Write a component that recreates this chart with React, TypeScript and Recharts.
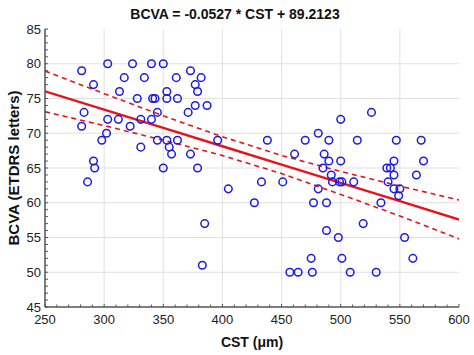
import React from "react";
import {
  ComposedChart,
  Scatter,
  XAxis,
  YAxis,
  ReferenceLine,
} from "recharts";

// CST (µm) and BCVA (ETDRS letters)
const cstValues = [
  281, 303, 324, 340, 350, 291, 317, 334, 361, 373, 382, 377, 379, 313, 353,
  328, 341, 343, 353, 362, 377, 387, 283, 345, 371, 500, 526, 281, 303, 312,
  331, 340, 322, 302, 298, 345, 353, 362, 355, 331, 357, 373, 291, 292, 286,
  350, 379, 396, 405, 427, 433, 438, 451, 461, 470, 481, 490, 486, 490, 485,
  492, 493, 499, 501, 511, 500, 514, 481, 477, 488, 534, 519, 547, 539, 542,
  545, 545, 540, 545, 550, 549, 564, 568, 570, 385, 383, 457, 464, 476, 475,
  488, 498, 501, 508, 530, 554, 561,
];
const bcvaValues = [
  79, 80, 80, 80, 80, 77, 78, 78, 78, 79, 78, 77, 76, 76, 76,
  75, 75, 75, 75, 75, 74, 74, 73, 73, 73, 72, 73, 71, 72, 72,
  72, 72, 71, 70, 69, 69, 69, 69, 68, 68, 67, 67, 66, 65, 63,
  65, 65, 69, 62, 60, 63, 69, 63, 67, 69, 70, 69, 67, 66, 65,
  64, 63, 63, 63, 63, 66, 69, 62, 60, 60, 60, 57, 69, 65, 65,
  66, 64, 63, 62, 62, 61, 64, 69, 66, 57, 51, 50, 50, 50, 52,
  56, 55, 52, 50, 50, 55, 52,
];

// regression line and its confidence band
const fitCst = [250, 300, 350, 400, 450, 500, 550, 600];
const fitBcva = [76.04, 73.4, 70.76, 68.13, 65.5, 62.86, 60.23, 57.59];
const upperBcva = [78.95, 75.7, 72.5, 69.5, 66.8, 64.5, 62.4, 60.4];
const lowerBcva = [73.1, 71.1, 69.0, 66.8, 64.2, 61.2, 58.1, 54.8];

const xMajor = [250, 300, 350, 400, 450, 500, 550, 600];
const yMajor = [45, 50, 55, 60, 65, 70, 75, 80, 85];
const xMinor = Array.from({ length: 36 }, (_, i) => 250 + i * 10);
const yMinor = Array.from({ length: 41 }, (_, i) => 45 + i);

const points = cstValues.map((cst, i) => ({ cst, bcva: bcvaValues[i] }));
const toLine = (ys: number[]) => fitCst.map((cst, i) => ({ cst, bcva: ys[i] }));

const FONT = "'Liberation Sans', Arial, sans-serif";
const FRAME = "#555";
const RED = "#e3141c";
const BLUE = "#1c1ce0";

const BottomTick = (p: any) => {
  const v = p.payload.value;
  const major = v % 50 === 0;
  return (
    <g>
      <line x1={p.x} x2={p.x} y1={p.y} y2={p.y - (major ? 3 : 2.5)} stroke={FRAME} />
      {major && (
        <text x={p.x} y={p.y + 17} textAnchor="middle" fontSize={13} fill="#222" fontFamily={FONT}>
          {v}
        </text>
      )}
    </g>
  );
};

const LeftTick = (p: any) => {
  const v = p.payload.value;
  const major = v % 5 === 0;
  return (
    <g>
      <line x1={p.x} x2={p.x + 3} y1={p.y} y2={p.y} stroke={FRAME} />
      {major && (
        <text x={p.x - 4} y={p.y + 4.5} textAnchor="end" fontSize={13} fill="#222" fontFamily={FONT}>
          {v}
        </text>
      )}
    </g>
  );
};

const TopTick = (p: any) => (
  <line x1={p.x} x2={p.x} y1={p.y} y2={p.y + 3} stroke={FRAME} />
);

const RightTick = (p: any) => (
  <line x1={p.x} x2={p.x - 3} y1={p.y} y2={p.y} stroke={FRAME} />
);

const Ring = (p: any) => (
  <circle cx={p.cx} cy={p.cy} r={3.8} fill="none" stroke={BLUE} strokeWidth={1.5} />
);

const NoDot = () => <g />;

export default function App() {
  return (
    <div style={{ position: "absolute", left: 0, top: 0, width: 474, height: 355, background: "#fff" }}>
      <ComposedChart
        width={474}
        height={355}
        margin={{ top: 29, right: 15, bottom: 18, left: 0 }}
      >
        <XAxis
          xAxisId="x"
          dataKey="cst"
          type="number"
          domain={[250, 600]}
          ticks={xMinor}
          interval={0}
          tickSize={0}
          tickMargin={0}
          height={30}
          tick={<BottomTick />}
          axisLine={{ stroke: FRAME, strokeWidth: 1.5 }}
          allowDataOverflow
        />
        <XAxis
          xAxisId="xt"
          orientation="top"
          type="number"
          domain={[250, 600]}
          ticks={xMinor}
          interval={0}
          tickSize={0}
          tickMargin={0}
          height={0}
          tick={<TopTick />}
          axisLine={{ stroke: FRAME, strokeWidth: 1.5 }}
        />
        <YAxis
          yAxisId="y"
          dataKey="bcva"
          type="number"
          domain={[45, 85]}
          ticks={yMinor}
          interval={0}
          tickSize={0}
          tickMargin={0}
          width={45}
          tick={<LeftTick />}
          axisLine={{ stroke: FRAME, strokeWidth: 1.5 }}
          allowDataOverflow
        />
        <YAxis
          yAxisId="yr"
          orientation="right"
          type="number"
          domain={[45, 85]}
          ticks={yMinor}
          interval={0}
          tickSize={0}
          tickMargin={0}
          width={0}
          tick={<RightTick />}
          axisLine={{ stroke: FRAME, strokeWidth: 1.5 }}
        />
        {xMajor.slice(1, -1).map((v) => (
          <ReferenceLine key={"gx" + v} xAxisId="x" yAxisId="y" x={v} stroke="#e0e0e0" />
        ))}
        {yMajor.slice(1, -1).map((v) => (
          <ReferenceLine key={"gy" + v} xAxisId="x" yAxisId="y" y={v} stroke="#e0e0e0" />
        ))}
        <Scatter
          xAxisId="x"
          yAxisId="y"
          data={toLine(upperBcva)}
          dataKey="bcva"
          line={{ stroke: RED, strokeWidth: 1.6, strokeDasharray: "5 4" }}
          shape={<NoDot />}
          isAnimationActive={false}
        />
        <Scatter
          xAxisId="x"
          yAxisId="y"
          data={toLine(lowerBcva)}
          dataKey="bcva"
          line={{ stroke: RED, strokeWidth: 1.6, strokeDasharray: "5 4" }}
          shape={<NoDot />}
          isAnimationActive={false}
        />
        <Scatter
          xAxisId="x"
          yAxisId="y"
          data={toLine(fitBcva)}
          dataKey="bcva"
          line={{ stroke: RED, strokeWidth: 2.4 }}
          shape={<NoDot />}
          isAnimationActive={false}
        />
        <Scatter
          xAxisId="x"
          yAxisId="y"
          data={points}
          dataKey="bcva"
          shape={<Ring />}
          isAnimationActive={false}
        />
      </ComposedChart>
      <svg
        width={474}
        height={355}
        style={{ position: "absolute", left: 0, top: 0, pointerEvents: "none" }}
        fontFamily={FONT}
        fontWeight="bold"
      >
        <text x={235} y={19} textAnchor="middle" fontSize={14} fill="#111">
          BCVA = -0.0527 * CST + 89.2123
        </text>
        <text x={252} y={347} textAnchor="middle" fontSize={14} fill="#111">
          CST (μm)
        </text>
        <text
          x={19}
          y={168}
          textAnchor="middle"
          fontSize={15}
          fill="#111"
          transform="rotate(-90 19 168)"
        >
          BCVA (ETDRS letters)
        </text>
      </svg>
    </div>
  );
}
